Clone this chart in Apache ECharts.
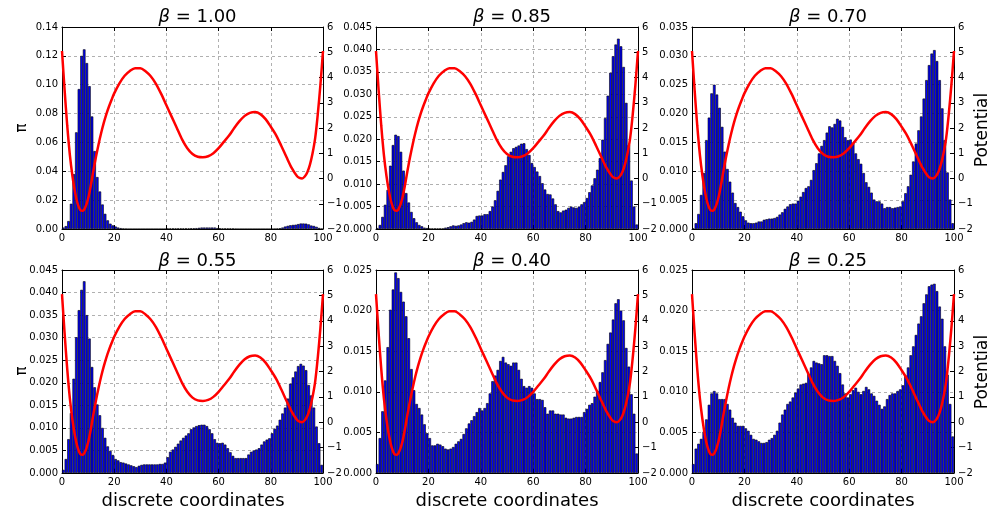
<!DOCTYPE html>
<html>
<head>
<meta charset="utf-8">
<script src="https://cdn.jsdelivr.net/npm/echarts@6/dist/echarts.min.js"></script>
<style>
html, body { margin: 0; padding: 0; background: #fff; }
#chart { width: 1001px; height: 517px; }
</style>
</head>
<body>
<div id="chart"></div>
<script>
// stationary distribution per bin (100 bins), one array per beta
const piBeta100 = [
  0.001, 0.002, 0.0055, 0.0175, 0.038, 0.067, 0.097, 0.120, 0.1245, 0.115,
  0.099, 0.078, 0.054, 0.036, 0.026, 0.017, 0.0105, 0.006, 0.0037, 0.0025,
  0.0017, 0.001, 0.0006, 0.0003, 0.0001, 0, 0, 0, 0, 0,
  0, 0, 0, 0, 0, 0, 0, 0, 0, 0,
  0.0003, 0.0004, 0.0004, 0.0004, 0.0004, 0.0004, 0.0004, 0.0004, 0.0004, 0.0005,
  0.0005, 0.0006, 0.0008, 0.001, 0.001, 0.001, 0.001, 0.001, 0.001, 0.0006,
  0.0005, 0.0004, 0.0004, 0.0004, 0.0004, 0.0003, 0.0001, 0, 0, 0,
  0, 0, 0, 0, 0, 0, 0, 0, 0, 0,
  0, 0.0001, 0.0003, 0.0005, 0.001, 0.0017, 0.0022, 0.0026, 0.0028, 0.003,
  0.0034, 0.0038, 0.0038, 0.0037, 0.0032, 0.0024, 0.0021, 0.0015, 0.0007, 0.0002
];
const piBeta085 = [
  0.0002, 0.0009, 0.0027, 0.0054, 0.0087, 0.0141, 0.0187, 0.021, 0.0207, 0.0172,
  0.013, 0.008, 0.0059, 0.0038, 0.0024, 0.0015, 0.0009, 0.0006, 0.0003, 0.0002,
  0.0001, 0.0001, 0.0001, 0.0001, 0.0001, 0.0001, 0.0003, 0.0004, 0.0006, 0.0008,
  0.0007, 0.0008, 0.001, 0.0013, 0.0015, 0.0014, 0.0016, 0.0021, 0.0029, 0.003,
  0.003, 0.0033, 0.0033, 0.004, 0.005, 0.0064, 0.0085, 0.011, 0.0127, 0.0142,
  0.0162, 0.0172, 0.018, 0.0183, 0.0186, 0.019, 0.0191, 0.0178, 0.0165, 0.0147,
  0.0138, 0.0128, 0.0118, 0.0102, 0.0088, 0.0078, 0.0077, 0.0068, 0.0055, 0.004,
  0.0037, 0.0041, 0.0043, 0.0047, 0.005, 0.0048, 0.0047, 0.005, 0.0055, 0.006,
  0.0069, 0.0082, 0.0097, 0.0113, 0.0132, 0.0158, 0.0199, 0.0247, 0.0297, 0.0348,
  0.0385, 0.0411, 0.0424, 0.0407, 0.0361, 0.0281, 0.0187, 0.0108, 0.005, 0.001
];
const piBeta070 = [
  0.0001, 0.001, 0.0026, 0.0059, 0.0097, 0.0154, 0.0193, 0.0235, 0.025, 0.0233,
  0.021, 0.0177, 0.0134, 0.0104, 0.0082, 0.0063, 0.0045, 0.0038, 0.003, 0.0022,
  0.0015, 0.0011, 0.001, 0.001, 0.0011, 0.0013, 0.0013, 0.0016, 0.0017, 0.0018,
  0.0018, 0.0019, 0.0021, 0.0025, 0.0029, 0.0035, 0.0039, 0.0043, 0.0044, 0.0044,
  0.0049, 0.0056, 0.0064, 0.0071, 0.0074, 0.0085, 0.0102, 0.0114, 0.0131, 0.0144,
  0.0154, 0.0167, 0.0178, 0.0176, 0.0182, 0.0191, 0.0188, 0.0177, 0.0159, 0.0154,
  0.0155, 0.0149, 0.0131, 0.0121, 0.0113, 0.0097, 0.0081, 0.0073, 0.0063, 0.0051,
  0.0048, 0.0048, 0.0044, 0.0036, 0.0038, 0.0038, 0.0036, 0.0037, 0.0038, 0.0039,
  0.0048, 0.0062, 0.0074, 0.0094, 0.0117, 0.0148, 0.0171, 0.0195, 0.0226, 0.0258,
  0.0284, 0.0304, 0.031, 0.0291, 0.0258, 0.0209, 0.0154, 0.0098, 0.0051, 0.001
];
const piBeta055 = [
  0.0007, 0.0031, 0.0075, 0.0133, 0.0209, 0.0301, 0.0361, 0.0406, 0.0425, 0.035,
  0.0298, 0.0235, 0.019, 0.0152, 0.0128, 0.01, 0.0078, 0.0059, 0.0049, 0.004,
  0.0031, 0.0028, 0.0024, 0.0023, 0.0021, 0.0019, 0.0017, 0.0015, 0.0013, 0.0016,
  0.0018, 0.0019, 0.0019, 0.0019, 0.0019, 0.0019, 0.0019, 0.002, 0.002, 0.0023,
  0.0035, 0.0047, 0.0052, 0.0058, 0.0065, 0.0072, 0.0078, 0.0083, 0.0088, 0.0097,
  0.0101, 0.0104, 0.0106, 0.0107, 0.0107, 0.0104, 0.0097, 0.0088, 0.0075, 0.0067,
  0.0066, 0.0067, 0.0063, 0.0055, 0.0046, 0.0038, 0.0033, 0.0033, 0.0033, 0.0033,
  0.0033, 0.0041, 0.0047, 0.005, 0.0052, 0.0055, 0.0063, 0.007, 0.0074, 0.0077,
  0.0088, 0.0098, 0.0105, 0.0118, 0.0132, 0.0145, 0.0165, 0.0198, 0.0212, 0.0225,
  0.0237, 0.0242, 0.0238, 0.0228, 0.0195, 0.0172, 0.0145, 0.0103, 0.0066, 0.0018
];
const piBeta040 = [
  0.0011, 0.0043, 0.0076, 0.0114, 0.0155, 0.0201, 0.0226, 0.0247, 0.024, 0.0223,
  0.0211, 0.0193, 0.0166, 0.0128, 0.0102, 0.0085, 0.008, 0.0072, 0.006, 0.0049,
  0.0043, 0.0034, 0.0034, 0.0036, 0.0035, 0.0033, 0.003, 0.0029, 0.003, 0.0032,
  0.0036, 0.0039, 0.0042, 0.0048, 0.0055, 0.0061, 0.0065, 0.007, 0.0075, 0.008,
  0.0077, 0.008, 0.0086, 0.0098, 0.0113, 0.012, 0.0127, 0.0138, 0.0143, 0.0136,
  0.0134, 0.0132, 0.0136, 0.0136, 0.0127, 0.0116, 0.0107, 0.0105, 0.0107, 0.0105,
  0.0098, 0.0091, 0.0091, 0.009, 0.0081, 0.0073, 0.0077, 0.0077, 0.0073, 0.0073,
  0.0072, 0.0072, 0.0068, 0.0067, 0.0067, 0.0068, 0.0069, 0.0069, 0.0069, 0.0075,
  0.0079, 0.0084, 0.0086, 0.0094, 0.0101, 0.0112, 0.0124, 0.0139, 0.0159, 0.0173,
  0.0189, 0.0209, 0.0214, 0.02, 0.0188, 0.0154, 0.0131, 0.0097, 0.0073, 0.0024
];
const piBeta025 = [
  0.0011, 0.003, 0.0036, 0.0042, 0.0051, 0.0066, 0.0084, 0.0098, 0.0101, 0.0098,
  0.0091, 0.0091, 0.0091, 0.0085, 0.0078, 0.0068, 0.0062, 0.0058, 0.0058, 0.0058,
  0.0055, 0.0052, 0.0047, 0.0042, 0.0041, 0.0039, 0.0037, 0.0037, 0.0038, 0.0041,
  0.0043, 0.0047, 0.0052, 0.0062, 0.0072, 0.0078, 0.0085, 0.0088, 0.0093, 0.0099,
  0.0104, 0.0109, 0.011, 0.0111, 0.0122, 0.013, 0.0138, 0.0136, 0.0135, 0.0134,
  0.0145, 0.0145, 0.0144, 0.0144, 0.0138, 0.0132, 0.0123, 0.0109, 0.0098, 0.0093,
  0.0097, 0.0102, 0.0105, 0.01, 0.0097, 0.0101, 0.0106, 0.0103, 0.0098, 0.0095,
  0.0089, 0.0084, 0.0079, 0.0082, 0.0091, 0.0096, 0.0098, 0.0098, 0.0101, 0.0103,
  0.0108, 0.012, 0.013, 0.0145, 0.0156, 0.017, 0.0184, 0.0193, 0.0209, 0.022,
  0.023, 0.0232, 0.0233, 0.0224, 0.0205, 0.019, 0.0156, 0.0121, 0.0085, 0.0045
];

// potential curve
const potX = [0, 1, 2, 3, 4, 5, 6, 7, 8, 9, 10, 11, 12, 13, 14, 15, 16, 17, 18, 19, 20,
  22, 24, 26, 28, 30, 32, 34, 36, 38, 40, 42, 44, 46, 48, 50, 52, 54, 56, 58, 60,
  62, 64, 66, 68, 70, 72, 74, 76, 78, 80, 82, 84, 86, 88, 90,
  91, 92, 93, 94, 95, 96, 97, 98, 99, 100];
const potY = [5.05, 3.5, 2.1, 0.95, 0.1, -0.55, -1.0, -1.25, -1.28, -1.12, -0.8, -0.3, 0.3, 0.85, 1.35, 1.8, 2.2, 2.55, 2.85, 3.12, 3.37,
  3.77, 4.07, 4.26, 4.37, 4.37, 4.25, 4.05, 3.75, 3.35, 2.9, 2.45, 2.0, 1.55, 1.2, 0.97, 0.86, 0.84, 0.88, 1.0, 1.2,
  1.45, 1.7, 2.0, 2.27, 2.48, 2.6, 2.63, 2.55, 2.35, 2.05, 1.72, 1.3, 0.85, 0.42, 0.1,
  0.02, 0.0, 0.08, 0.25, 0.55, 1.0, 1.6, 2.55, 3.7, 5.05];

const betaLabels = ['1.00', '0.85', '0.70', '0.55', '0.40', '0.25'];
const piSeries = [piBeta100, piBeta085, piBeta070, piBeta055, piBeta040, piBeta025];
const piMax = [0.14, 0.045, 0.035, 0.045, 0.025, 0.025];
const piStep = [0.02, 0.005, 0.005, 0.005, 0.005, 0.005];
const piDecimals = [2, 3, 3, 3, 3, 3];

const binLabels = piBeta100.map((_, i) => String(i));
const potData = potX.map((x, i) => [x, potY[i]]);

// layout of the 2x3 grid, pixels
const colLeft = [62, 376, 692];
const colWidth = [261, 262, 262];
const rowTop = [27, 270];
const rowHeight = [202, 203];

const FONT = 'DejaVu Sans';
const tickStyle = { show: true, inside: true, length: 4, lineStyle: { color: '#000', width: 1 } };
const frameLine = { show: true, onZero: false, lineStyle: { color: '#000', width: 1 } };
const gridDash = { show: true, lineStyle: { color: '#b0b0b0', width: 1, type: [3, 3] } };

const grids = [], xAxes = [], yAxes = [], series = [], titles = [];

piSeries.forEach((bins, i) => {
  const col = i % 3, row = Math.floor(i / 3);
  grids.push({ left: colLeft[col], top: rowTop[row], width: colWidth[col], height: rowHeight[row] });

  // hidden category axis carries the histogram bins
  xAxes.push({ type: 'category', gridIndex: i, data: binLabels, show: false, boundaryGap: true,
    axisLine: { onZero: false } });
  // visible value axis 0..100
  xAxes.push({
    type: 'value', gridIndex: i, position: 'bottom', min: 0, max: 100, interval: 20,
    axisLine: frameLine, axisTick: tickStyle, splitLine: gridDash,
    axisLabel: { color: '#000', fontSize: 10, fontFamily: FONT, margin: 4 }
  });
  // top frame with ticks
  xAxes.push({
    type: 'value', gridIndex: i, position: 'top', min: 0, max: 100, interval: 20,
    axisLine: frameLine, axisTick: tickStyle, splitLine: { show: false }, axisLabel: { show: false }
  });

  const dec = piDecimals[i];
  yAxes.push({
    type: 'value', gridIndex: i, position: 'left', min: 0, max: piMax[i], interval: piStep[i],
    axisLine: frameLine, axisTick: tickStyle, splitLine: gridDash,
    axisLabel: { color: '#000', fontSize: 10, fontFamily: FONT, margin: 4,
      formatter: v => v.toFixed(dec) }
  });
  yAxes.push({
    type: 'value', gridIndex: i, position: 'right', min: -2, max: 6, interval: 1,
    axisLine: frameLine, axisTick: tickStyle, splitLine: { show: false },
    axisLabel: { color: '#000', fontSize: 10, fontFamily: FONT, margin: 4,
      formatter: v => (v < 0 ? '\u2212' + Math.abs(v) : String(v)) }
  });

  series.push({
    type: 'bar', xAxisIndex: 3 * i, yAxisIndex: 2 * i, data: bins,
    barWidth: '100%', barCategoryGap: '0%', silent: true,
    itemStyle: { color: '#0000ff', borderColor: '#000', borderWidth: 0.6 },
    z: 2
  });
  series.push({
    type: 'line', xAxisIndex: 3 * i + 1, yAxisIndex: 2 * i + 1, data: potData,
    showSymbol: false, smooth: 0.3, silent: true,
    lineStyle: { color: '#ff0000', width: 2.5 },
    z: 5
  });

  titles.push({
    text: '{b|\u03b2} = ' + betaLabels[i],
    left: colLeft[col] + colWidth[col] / 2, top: row === 0 ? 3 : 247,
    textAlign: 'center',
    textStyle: {
      fontSize: 18, fontWeight: 'normal', fontFamily: FONT, color: '#000',
      rich: { b: { fontSize: 18, fontStyle: 'italic', fontFamily: FONT, color: '#000' } }
    }
  });
});

const sideText = (text, x, y, size, rotation) => ({
  type: 'text', x: x, y: y, rotation: rotation,
  style: { text: text, fontSize: size, fontFamily: FONT, fill: '#000', align: 'center', verticalAlign: 'middle' }
});

const graphics = [
  sideText('\u03c0', 22, 128, 15, Math.PI / 2),
  sideText('\u03c0', 22, 371, 15, Math.PI / 2),
  sideText('Potential', 983, 130, 17, Math.PI / 2),
  sideText('Potential', 983, 372, 17, Math.PI / 2),
  sideText('discrete coordinates', 193, 501, 18, 0),
  sideText('discrete coordinates', 507, 501, 18, 0),
  sideText('discrete coordinates', 823, 501, 18, 0)
];

const chart = echarts.init(document.getElementById('chart'), null, { renderer: 'canvas' });
chart.setOption({
  animation: false,
  backgroundColor: '#fff',
  title: titles,
  grid: grids,
  xAxis: xAxes,
  yAxis: yAxes,
  series: series,
  graphic: graphics
});
</script>
</body>
</html>
